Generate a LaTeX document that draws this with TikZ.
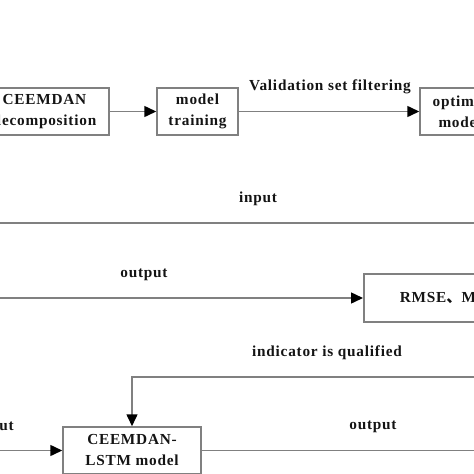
\documentclass[tikz,border=0pt]{standalone}
\usepackage{fontspec}
\setmainfont{Liberation Serif}[LetterSpace=5]
\newfontfamily\cjk{Noto Sans CJK SC}
\usetikzlibrary{arrows.meta}
\definecolor{linegray}{RGB}{128,128,128}
\definecolor{ink}{RGB}{20,20,20}
\begin{document}
\begin{tikzpicture}[x=1pt,y=-1pt,
  txt/.style={text=ink, font=\bfseries\fontsize{15.3}{21}\selectfont},
  box/.style={txt, draw=linegray, line width=1.5pt, align=center, inner sep=0pt, minimum height=47pt},
  lbl/.style={txt, inner sep=0pt},
  conn/.style={draw=linegray, line width=1.5pt},
  arr/.style={conn, -{Triangle[length=12pt,width=11pt,color=black]}}
]
\useasboundingbox (0,0) rectangle (474,474);
\clip (0,0) rectangle (474,474);
% top row
\node[box, minimum width=129pt] (decomp) at (44.5,111.5) {CEEMDAN\\decomposition};
\node[box, minimum width=81pt] (train) at (197.5,111.5) {model\\training};
\node[box, minimum width=80pt] (optim) at (460,111.5) {optimal\\model};
\draw[arr] (decomp) -- (train);
\draw[arr] (train) -- (optim);
\node[lbl] (vsf) at (330,87) {Validation set filtering};
% input line
\coordinate (inL) at (-10,223);
\coordinate (inR) at (490,223);
\draw[conn] (inL) -- (inR);
\node[lbl] (inlbl) at (258,199) {input};
% output to RMSE
\node[box, anchor=west, minimum height=48pt, align=left] (rmse) at (363,298) {\hspace*{36pt}RMSE{\cjk 、}MAE\hspace*{60pt}};
\coordinate (outL) at (-10,298);
\draw[arr] (outL) -- (rmse.west);
\node[lbl] (outlbl) at (144,275) {output};
% bottom row
\node[box, minimum width=138pt] (cl) at (132,450.5) {CEEMDAN-\\LSTM model};
\coordinate (fbR) at (490,377);
\draw[arr] (fbR) -| (cl.north);
\node[lbl] (iq) at (327,353) {indicator is qualified};
\coordinate (in2L) at (-10,450.5);
\draw[arr] (in2L) -- (cl.west);
\node[lbl, anchor=east] (in2lbl) at (14,427) {input};
\coordinate (out2R) at (490,450.5);
\draw[conn] (cl.east) -- (out2R);
\node[lbl] (out2lbl) at (373,427) {output};
\end{tikzpicture}
\end{document}
